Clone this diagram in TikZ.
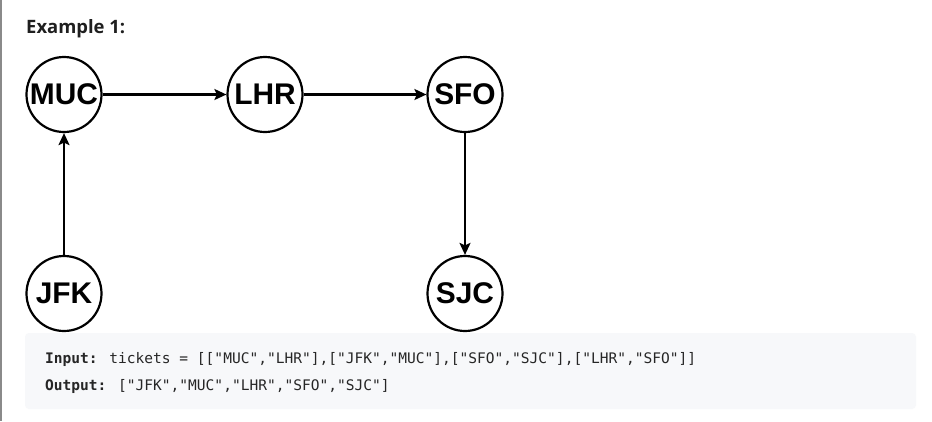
\documentclass[tikz,border=0pt]{standalone}
\usepackage{fontspec}
\setmainfont{Liberation Sans}
\newfontfamily\titlefont{Open Sans}
\newfontfamily\codefont{DejaVu Sans Mono}
\usetikzlibrary{arrows.meta}
\definecolor{codebg}{HTML}{F7F8FA}
\definecolor{titlecol}{HTML}{1F1F1F}
\definecolor{codecol}{HTML}{262626}
\definecolor{bordercol}{HTML}{8A8A8A}
\tikzset{
  airport/.style={circle, draw=black, line width=2.2bp, minimum size=75bp, inner sep=0pt,
    font=\fontsize{30}{30}\selectfont\bfseries, fill=white},
  flight/.style={line width=2.2bp, -{Stealth[length=12bp,width=11bp,inset=2.5bp]}},
  codeline/.style={anchor=base west, inner sep=0pt, text=codecol, font=\codefont\fontsize{14.6}{16}\selectfont}
}
\begin{document}
\begin{tikzpicture}[x=1bp,y=-1bp]
\useasboundingbox (0,0) rectangle (932,421);
\fill[white] (0,0) rectangle (932,421);
\fill[bordercol] (0,0) rectangle (2,421);
\node[anchor=base west, inner sep=0pt, text=titlecol, font=\titlefont\bfseries\fontsize{18.5}{22}\selectfont] (title) at (26,33) {Example 1:};
\node[airport] (muc) at (64,94.5) {MUC};
\node[airport] (lhr) at (265,94.5) {LHR};
\node[airport] (sfo) at (465,94.5) {SFO};
\node[airport] (jfk) at (64,293.5) {JFK};
\node[airport] (sjc) at (465,293.5) {SJC};
\draw[flight] (muc) -- (lhr);
\draw[flight] (lhr) -- (sfo);
\draw[flight] (jfk) -- (muc);
\draw[flight] (sfo) -- (sjc);
\fill[codebg, rounded corners=4bp] (25,333) rectangle (916,409);
\node[codeline] (input) at (45,363) {\textbf{Input:} tickets = [["MUC","LHR"],["JFK","MUC"],["SFO","SJC"],["LHR","SFO"]]};
\node[codeline] (output) at (45,390) {\textbf{Output:} ["JFK","MUC","LHR","SFO","SJC"]};
\end{tikzpicture}
\end{document}
